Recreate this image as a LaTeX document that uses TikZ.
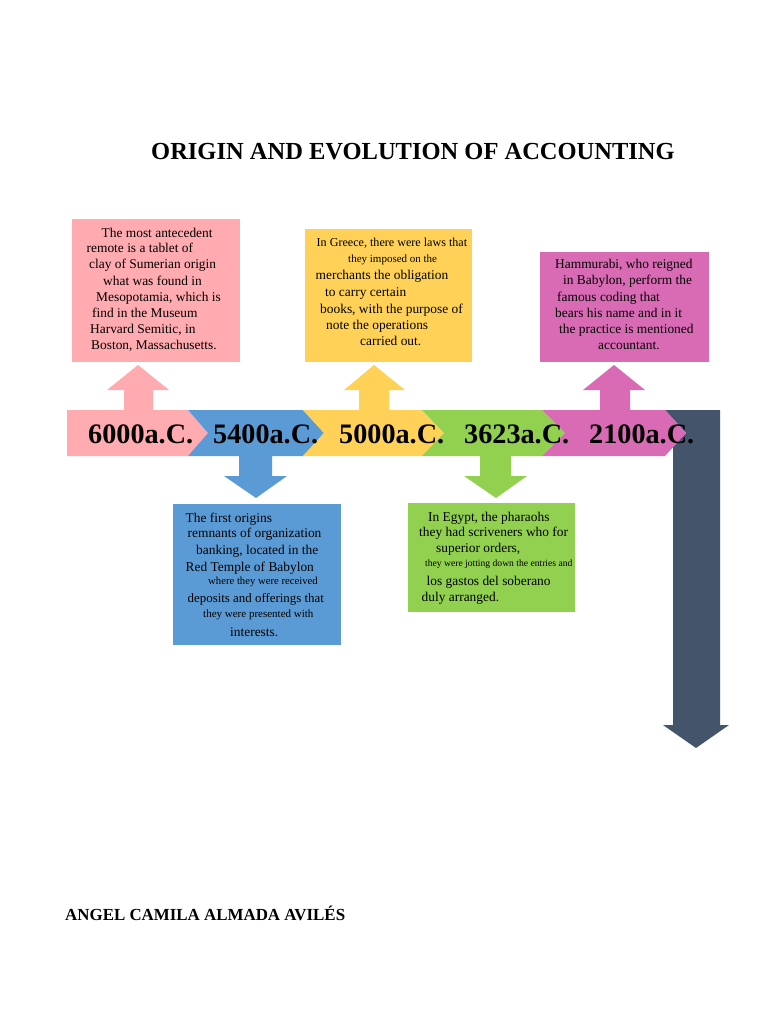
\documentclass[tikz,border=0pt]{standalone}
\usepackage{fontspec}
\setmainfont{Liberation Serif}
\definecolor{pinkc}{HTML}{FFABB0}
\definecolor{bluec}{HTML}{5B9BD5}
\definecolor{yellowc}{HTML}{FFD257}
\definecolor{greenc}{HTML}{92D050}
\definecolor{magc}{HTML}{D96BB5}
\definecolor{navyc}{HTML}{44546A}
\begin{document}
\begin{tikzpicture}[x=1pt,y=-1pt,
  box/.style={inner sep=0, minimum width=168pt},
  ln/.style={anchor=base west, inner sep=0, font=\fontsize{13.4}{16}\selectfont},
  lnm/.style={ln, font=\fontsize{12.1}{14}\selectfont},
  lns/.style={ln, font=\fontsize{11}{13}\selectfont},
  lnt/.style={ln, font=\fontsize{9.6}{11}\selectfont},
  date/.style={anchor=base west, inner sep=0, font=\bfseries\fontsize{28.2}{30}\selectfont},
  title/.style={inner sep=0, font=\bfseries\fontsize{24.5}{28}\selectfont}]
\useasboundingbox (0,0) rectangle (768,1024);
\fill[white] (0,0) rectangle (768,1024);

% title
\node[title, anchor=base] (title) at (413,160) {ORIGIN AND EVOLUTION OF ACCOUNTING};

% boxes
\node[box, fill=pinkc, minimum height=143pt] (pbox) at (156,290.5) {};
\node[box, fill=yellowc, minimum height=133pt, minimum width=167pt] (ybox) at (388.5,295.5) {};
\node[box, fill=magc, minimum height=110pt, minimum width=169pt] (mbox) at (624.5,307) {};
\node[box, fill=bluec, minimum height=141pt] (bbox) at (257,574.5) {};
\node[box, fill=greenc, minimum height=109pt, minimum width=167pt] (gbox) at (491.5,557.5) {};

% up arrows
\fill[pinkc] (124,411) -- (124,390) -- (107,390) -- (138,365) -- (169,390) -- (153,390) -- (153,411) -- cycle;
\fill[yellowc] (359,411) -- (359,390) -- (344,390) -- (374,365) -- (405,390) -- (389,390) -- (389,411) -- cycle;
\fill[magc] (600,411) -- (600,390) -- (583,390) -- (614,365) -- (645,390) -- (630,390) -- (630,411) -- cycle;
% down arrows
\fill[bluec] (239,455) -- (239,476) -- (224,476) -- (256,498) -- (287,476) -- (272,476) -- (272,455) -- cycle;
\fill[greenc] (480,455) -- (480,476) -- (464,476) -- (496,498) -- (527,476) -- (511,476) -- (511,455) -- cycle;

% band
\fill[navyc] (665,410) -- (720,410) -- (720,725) -- (729,725) -- (696,748) -- (663,725) -- (673,725) -- (673,447) -- (686,433) -- cycle;
\fill[pinkc] (67,410) -- (188,410) -- (208,433) -- (188,456) -- (67,456) -- cycle;
\fill[bluec] (188,410) -- (303,410) -- (324,433) -- (303,456) -- (188,456) -- (208,433) -- cycle;
\fill[yellowc] (303,410) -- (422,410) -- (444,433) -- (422,456) -- (303,456) -- (324,433) -- cycle;
\fill[greenc] (422,410) -- (542,410) -- (565,433) -- (542,456) -- (422,456) -- (444,433) -- cycle;
\fill[magc] (542,410) -- (665,410) -- (686,433) -- (665,456) -- (542,456) -- (565,433) -- cycle;

% dates
\node[date] (d1) at (88,443) {6000a.C.};
\node[date] (d2) at (213,443) {5400a.C.};
\node[date] (d3) at (339,443) {5000a.C.};
\node[date] (d4) at (464,443) {3623a.C.};
\node[date] (d5) at (589,443) {2100a.C.};

% pink box text
\node[ln] (p1) at (101.5,237) {The most antecedent};
\node[ln] (p2) at (86.5,252.5) {remote is a tablet of};
\node[ln] (p3) at (89,268.5) {clay of Sumerian origin};
\node[ln] (p4) at (103,285) {what was found in};
\node[ln] (p5) at (96,301.5) {Mesopotamia, which is};
\node[ln] (p6) at (92,317.5) {find in the Museum};
\node[ln] (p7) at (90,333.5) {Harvard Semitic, in};
\node[ln] (p8) at (91,349.5) {Boston, Massachusetts.};

% yellow box text
\node[lnm] (y1) at (316.5,246.5) {In Greece, there were laws that};
\node[lns] (y2) at (348,262) {they imposed on the};
\node[ln] (y3) at (315.5,279.5) {merchants the obligation};
\node[ln] (y4) at (325,296) {to carry certain};
\node[ln] (y5) at (320,313) {books, with the purpose of};
\node[ln] (y6) at (326,329.5) {note the operations};
\node[ln] (y7) at (360,345) {carried out.};

% magenta box text
\node[ln] (m1) at (555,268.5) {Hammurabi, who reigned};
\node[ln] (m2) at (563,284.5) {in Babylon, perform the};
\node[ln] (m3) at (557,301.5) {famous coding that};
\node[ln] (m4) at (555,317.5) {bears his name and in it};
\node[ln] (m5) at (559,333) {the practice is mentioned};
\node[ln] (m6) at (598,349.5) {accountant.};

% blue box text
\node[ln] (b1) at (185.5,522) {The first origins};
\node[ln] (b2) at (187.5,537.5) {remnants of organization};
\node[ln] (b3) at (196,554.5) {banking, located in the};
\node[ln] (b4) at (185.5,571) {Red Temple of Babylon};
\node[lns, font=\fontsize{10.7}{12}\selectfont] (b5) at (208,584.5) {where they were received};
\node[ln, font=\fontsize{12.9}{15}\selectfont] (b6) at (187.5,602.5) {deposits and offerings that};
\node[lns] (b7) at (203,617) {they were presented with};
\node[ln] (b8) at (230,636) {interests.};

% green box text
\node[ln] (g1) at (428,521) {In Egypt, the pharaohs};
\node[ln] (g2) at (419,536.5) {they had scriveners who for};
\node[ln] (g3) at (436,552.5) {superior orders,};
\node[lnt] (g4) at (425,566.5) {they were jotting down the entries and};
\node[ln] (g5) at (426.5,585.5) {los gastos del soberano};
\node[ln] (g6) at (421.5,601) {duly arranged.};

% author
\node[anchor=base west, inner sep=0, font=\bfseries\fontsize{16.9}{20}\selectfont] (author) at (65,920) {ANGEL CAMILA ALMADA AVILÉS};
\end{tikzpicture}
\end{document}
